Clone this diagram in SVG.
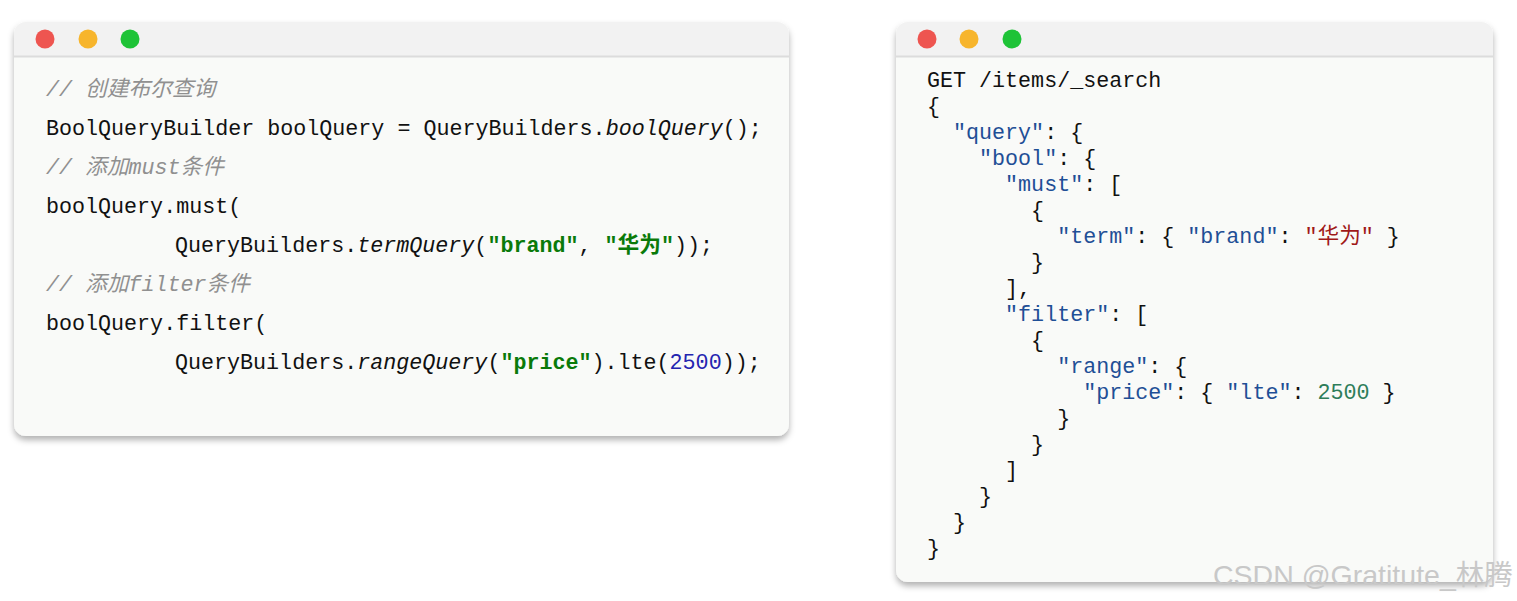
<svg xmlns="http://www.w3.org/2000/svg" width="1517" height="601" viewBox="0 0 1517 601">
<defs>
<filter id="sh" x="-5%" y="-5%" width="110%" height="115%"><feDropShadow dx="0" dy="4" stdDeviation="3" flood-color="#000" flood-opacity="0.3"/></filter>
<style>
.win{fill:#f9faf8}
.bar{fill:#f2f2f2}
.code{font-family:"Liberation Mono","DejaVu Sans Mono","Noto Sans CJK SC",monospace;font-size:21.7px;fill:#111;white-space:pre}
.cm{fill:#909090;font-style:italic}
.str{fill:#0a7a0a;font-weight:bold}
.num{fill:#2424b0}
.it{font-style:italic}
.k{fill:#1f4f96}
.rs{fill:#a01818}
.gn{fill:#2e7d5a}
</style>
</defs>
<rect width="1517" height="601" fill="#fff"/>
<g id="left">
<rect class="win" x="14" y="22" width="775" height="414" rx="12" filter="url(#sh)"/>
<path class="bar" d="M14 56 V34 a12 12 0 0 1 12 -12 H777 a12 12 0 0 1 12 12 V56 Z"/>
<line x1="14" y1="56.5" x2="789" y2="56.5" stroke="#dcdcdc" stroke-width="2"/>
<circle cx="45" cy="39" r="9.5" fill="#ee5550"/><circle cx="88" cy="39" r="9.5" fill="#f7b52c"/><circle cx="130" cy="39" r="9.5" fill="#1ec337"/>
<text class="code" x="46" y="96"><tspan class="cm">// 创建布尔查询</tspan></text>
<text class="code" x="46" y="135">BoolQueryBuilder boolQuery = QueryBuilders.<tspan class="it">boolQuery</tspan>();</text>
<text class="code" x="46" y="174"><tspan class="cm">// 添加must条件</tspan></text>
<text class="code" x="46" y="213">boolQuery.must(</text>
<text class="code" x="175" y="252">QueryBuilders.<tspan class="it">termQuery</tspan>(<tspan class="str">"brand"</tspan>, <tspan class="str">"华为"</tspan>));</text>
<text class="code" x="46" y="291"><tspan class="cm">// 添加filter条件</tspan></text>
<text class="code" x="46" y="330">boolQuery.filter(</text>
<text class="code" x="175" y="369">QueryBuilders.<tspan class="it">rangeQuery</tspan>(<tspan class="str">"price"</tspan>).lte(<tspan class="num">2500</tspan>));</text>
</g>
<g id="right">
<rect class="win" x="896" y="22" width="597" height="560" rx="12" filter="url(#sh)"/>
<path class="bar" d="M896 56 V34 a12 12 0 0 1 12 -12 H1481 a12 12 0 0 1 12 12 V56 Z"/>
<line x1="896" y1="56.5" x2="1493" y2="56.5" stroke="#dcdcdc" stroke-width="2"/>
<circle cx="927" cy="39" r="9.5" fill="#ee5550"/><circle cx="969" cy="39" r="9.5" fill="#f7b52c"/><circle cx="1012" cy="39" r="9.5" fill="#1ec337"/>
<text class="code" x="927" y="87">GET /items/_search</text>
<text class="code" x="927" y="113">{</text>
<text class="code" x="927" y="139">  <tspan class="k">"query"</tspan>: {</text>
<text class="code" x="927" y="165">    <tspan class="k">"bool"</tspan>: {</text>
<text class="code" x="927" y="191">      <tspan class="k">"must"</tspan>: [</text>
<text class="code" x="927" y="217">        {</text>
<text class="code" x="927" y="243">          <tspan class="k">"term"</tspan>: { <tspan class="k">"brand"</tspan>: <tspan class="rs">"华为"</tspan> }</text>
<text class="code" x="927" y="269">        }</text>
<text class="code" x="927" y="295">      ],</text>
<text class="code" x="927" y="321">      <tspan class="k">"filter"</tspan>: [</text>
<text class="code" x="927" y="347">        {</text>
<text class="code" x="927" y="373">          <tspan class="k">"range"</tspan>: {</text>
<text class="code" x="927" y="399">            <tspan class="k">"price"</tspan>: { <tspan class="k">"lte"</tspan>: <tspan class="gn">2500</tspan> }</text>
<text class="code" x="927" y="425">          }</text>
<text class="code" x="927" y="451">        }</text>
<text class="code" x="927" y="477">      ]</text>
<text class="code" x="927" y="503">    }</text>
<text class="code" x="927" y="529">  }</text>
<text class="code" x="927" y="555">}</text>
</g>
<text x="1213" y="585" font-family="Liberation Sans,Noto Sans CJK SC,sans-serif" font-size="28.5" fill="#c8c8c8">CSDN @Gratitute_林腾</text>
</svg>
